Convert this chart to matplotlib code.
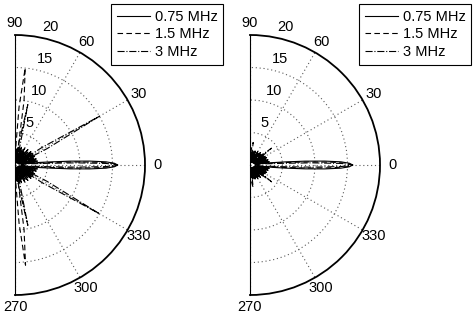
import numpy as np
import matplotlib
matplotlib.use("Agg")
import matplotlib.pyplot as plt

plt.rcParams["font.family"] = ["Liberation Sans", "DejaVu Sans"]
plt.rcParams["font.size"] = 10.5

# beam patterns (angle in degrees, radius in plot units)
theta_deg = [-90, -88, -86, -84, -82, -80, -78, -75, -70, -65, -60, -55, -50, -45,
             -40, -38, -36, -33, -30, -27, -24, -20, -16, -13, -10, -8, -6, -5, -4,
             -3, -2, -1, 0, 1, 2, 3, 4, 5, 6, 8, 10, 13, 16, 20, 24, 27, 30, 33, 36,
             38, 40, 45, 50, 55, 60, 65, 70, 75, 78, 80, 82, 84, 86, 88, 90]

left_075 = [1.8, 0.3, 2.4, 0.4, 2.6, 0.3, 2.8, 0.5, 2.9, 0.4, 3.0, 0.5, 3.1, 0.4,
            3.2, 0.6, 3.1, 0.5, 3.2, 0.7, 3.3, 0.6, 3.4, 0.8, 3.5, 1.2, 3.8, 5.5, 8.5,
            11.5, 14.0, 15.3, 15.8, 15.3, 14.0, 11.5, 8.5, 5.5, 3.8, 1.2, 3.5, 0.8,
            3.4, 0.6, 3.3, 0.7, 3.2, 0.5, 3.1, 0.6, 3.2, 0.4, 3.1, 0.5, 3.0, 0.4, 2.9,
            0.5, 2.8, 0.3, 2.6, 0.4, 2.4, 0.3, 1.8]
left_15 = [1.4, 2.2, 9.0, 15.5, 10.0, 3.0, 1.6, 2.5, 1.4, 2.6, 1.5, 2.7, 1.6, 2.8,
           1.5, 2.3, 1.6, 2.9, 1.7, 3.0, 1.8, 3.1, 1.7, 3.2, 2.0, 2.8, 2.4, 3.0, 5.5,
           9.0, 12.5, 15.0, 15.8, 15.0, 12.5, 9.0, 5.5, 3.0, 2.4, 2.8, 2.0, 3.2, 1.7,
           3.1, 1.8, 3.0, 1.7, 2.9, 1.6, 2.3, 1.5, 2.8, 1.6, 2.7, 1.5, 2.6, 1.4, 2.5,
           1.6, 3.0, 10.0, 15.0, 9.0, 2.2, 1.4]
left_3 = [0.6, 2.0, 0.5, 2.3, 0.6, 3.5, 9.5, 2.6, 0.5, 2.4, 0.6, 2.6, 0.5, 2.7,
          0.6, 2.5, 0.8, 5.0, 15.0, 5.5, 0.7, 2.9, 0.6, 3.0, 0.8, 2.9, 1.0, 2.3, 2.8,
          5.0, 9.5, 14.0, 15.8, 14.0, 9.5, 5.0, 2.8, 2.3, 1.0, 2.9, 0.8, 3.0, 0.6,
          2.9, 0.7, 5.5, 15.0, 5.0, 0.8, 2.5, 0.6, 2.7, 0.5, 2.6, 0.6, 2.4, 0.5, 2.6,
          9.5, 3.5, 0.6, 2.3, 0.5, 2.0, 0.6]

right_075 = [1.4, 0.3, 1.8, 0.3, 2.0, 0.4, 2.2, 0.4, 2.3, 0.4, 2.4, 0.5, 2.5, 0.5,
             2.6, 0.6, 2.5, 0.6, 2.7, 0.7, 2.8, 0.7, 2.9, 0.8, 3.0, 1.2, 3.5, 5.5,
             8.5, 11.5, 14.0, 15.3, 15.8, 15.3, 14.0, 11.5, 8.5, 5.5, 3.5, 1.2, 3.0,
             0.8, 2.9, 0.7, 2.8, 0.7, 2.7, 0.6, 2.5, 0.6, 2.6, 0.5, 2.5, 0.5, 2.4, 0.4,
             2.3, 0.4, 2.2, 0.4, 2.0, 0.3, 1.8, 0.3, 1.4]
right_15 = [1.2, 1.6, 2.2, 2.8, 3.5, 1.8, 1.2, 2.0, 1.2, 2.1, 1.3, 2.2, 1.3, 2.3,
            1.3, 1.9, 1.4, 2.4, 1.5, 2.5, 1.5, 2.6, 1.6, 2.7, 1.8, 2.5, 2.2, 2.9,
            5.5, 9.0, 12.5, 15.0, 15.8, 15.0, 12.5, 9.0, 5.5, 2.9, 2.2, 2.5, 1.8,
            2.7, 1.6, 2.6, 1.5, 2.5, 1.5, 2.4, 1.4, 1.9, 1.3, 2.3, 1.3, 2.2, 1.3, 2.1,
            1.2, 2.0, 1.2, 1.8, 3.5, 2.8, 2.2, 1.6, 1.2]
right_3 = [0.5, 1.6, 0.5, 1.8, 0.6, 1.9, 0.6, 2.0, 0.5, 2.1, 0.6, 2.2, 0.6, 2.0,
           2.4, 4.2, 2.2, 0.6, 2.3, 0.7, 0.7, 2.5, 0.7, 2.7, 0.8, 2.6, 1.0, 2.2, 2.7,
           5.0, 9.5, 14.0, 15.8, 14.0, 9.5, 5.0, 2.7, 2.2, 1.0, 2.6, 0.8, 2.7, 0.7,
           2.5, 0.7, 0.7, 2.3, 0.6, 2.2, 4.2, 2.4, 2.0, 0.6, 2.2, 0.6, 2.1, 0.5, 2.0,
           0.6, 1.9, 0.6, 1.8, 0.5, 1.6, 0.5]

labels = ["0.75 MHz", "1.5 MHz", "3 MHz"]
styles = ["-", (0, (5, 3)), "-."]
ring_ticks = [5, 10, 15, 20]
angle_ticks = [-90, -60, -30, 0, 30, 60, 90]
angle_labels = ["270", "300", "330", "0", "30", "60", "90"]
rmax = 20

W, H = 474, 325
fig = plt.figure(figsize=(W / 100, H / 100), dpi=100)


def make_panel(cx, series, legend_x):
    # polar axes keep a square box; the half disc sits centred in it
    ax = fig.add_axes([(cx - 65) / W, 30 / H, 260 / W, 260 / H], projection="polar")
    ax.set_thetamin(-90)
    ax.set_thetamax(90)
    ax.set_rlim(0, rmax)
    th = np.deg2rad(theta_deg)
    for r, ls, lab in zip(series, styles, labels):
        ax.plot(th, r, linestyle=ls, color="black", lw=0.8, label=lab)

    ax.set_rticks(ring_ticks[:-1])
    ax.set_thetagrids(angle_ticks)
    ax.set_xticklabels([])
    ax.set_yticklabels([])
    ax.grid(True, color="0.35", linestyle=(0, (1, 2.5)), lw=0.8)
    ax.tick_params(length=0)
    for s in ["start", "end", "inner"]:
        ax.spines[s].set_visible(False)
    ax.spines["polar"].set_linewidth(1.3)

    for a, txt in zip(angle_ticks, angle_labels):
        ax.text(np.deg2rad(a), rmax * 1.095, txt, ha="center", va="center",
                clip_on=False)
    for rt in ring_ticks:
        ax.annotate(str(rt), xy=(np.deg2rad(80), rt + 0.5), xytext=(3, 0),
                    textcoords="offset points", ha="left", va="bottom",
                    annotation_clip=False)

    leg = ax.legend(loc="upper left", bbox_to_anchor=(legend_x / W, 1 - 4 / H),
                    bbox_transform=fig.transFigure, borderaxespad=0,
                    fancybox=False, framealpha=1, edgecolor="black",
                    handlelength=2.3, handletextpad=0.3, labelspacing=0.25,
                    borderpad=0.4)
    leg.get_frame().set_linewidth(0.8)
    return ax


make_panel(15, [left_075, left_15, left_3], 111)
make_panel(250, [right_075, right_15, right_3], 359)

fig.savefig("out.png", dpi=100)
